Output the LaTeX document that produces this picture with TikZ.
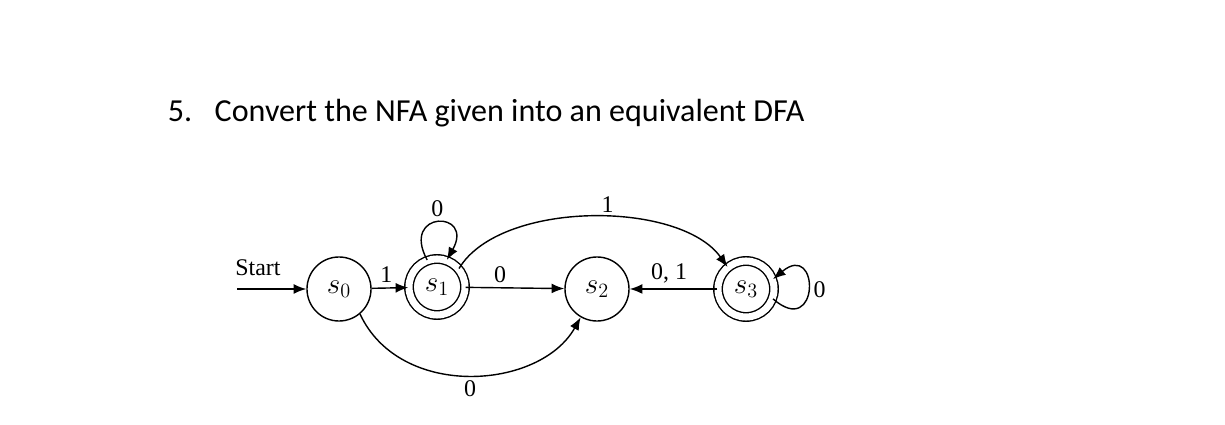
\documentclass[tikz,border=0pt]{standalone}
\usepackage{fontspec}
\setmainfont{Liberation Serif}
\newfontfamily\titlefont{Carlito}
\usetikzlibrary{arrows.meta}
\begin{document}
\begin{tikzpicture}[x=0.025cm,y=-0.025cm,
  st/.style={circle,draw,line width=1pt,minimum size=1.6cm,inner sep=0pt,font=\fontsize{20}{22}\selectfont},
  acc/.style={st,minimum size=1.4cm,double,double distance=5pt},
  lab/.style={font=\fontsize{17}{19}\selectfont},
  edge/.style={line width=1pt,-{Latex[length=9pt,width=7pt]}}]
\useasboundingbox (0,0) rectangle (1225,425);
\node[anchor=west,font=\titlefont\fontsize{22.8}{26}\selectfont] (t) at (163,113) {5.\hspace{0.7em}Convert the NFA given into an equivalent DFA};
\node[st] (s0) at (339,289) {$s_0$};
\node[acc] (s1) at (437,287) {$s_1$};
\node[st] (s2) at (597,289) {$s_2$};
\node[acc] (s3) at (746,289) {$s_3$};
\node[lab] (start) at (258,268) {Start};
\coordinate (in) at (237,289);
\draw[edge] (in) -- (s0);
\draw[edge] (s0) -- node[lab,above,pos=0.4] {1} (s1);
\draw[edge] (s1) -- node[lab,above,pos=0.35] {0} (s2);
\draw[edge] (s3) -- node[lab,above,pos=0.55] {0, 1} (s2);
\draw[edge] (s1.110) .. controls (400,210) and (475,210) .. node[lab,above,pos=0.5] {0} (s1.70);
\draw[edge] (s1.40) .. controls (500,200) and (680,200) .. node[lab,above,pos=0.55] {1} (s3.130);
\draw[edge] (s0.-50) .. controls (400,400) and (540,390) .. node[lab,below,pos=0.5] {0} (s2.-120);
\draw[edge] (s3.-20) .. controls (820,340) and (820,240) .. node[lab,right,pos=0.5] {0} (s3.20);
\end{tikzpicture}
\end{document}
